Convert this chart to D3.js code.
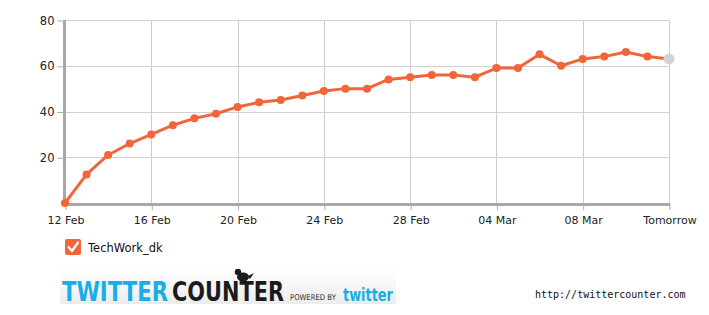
<!DOCTYPE html>
<html>
<head>
<meta charset="utf-8">
<script src="https://cdn.jsdelivr.net/npm/d3@7"></script>
<style>
  body { margin: 0; background: #fff; }
  svg { display: block; }
  text { font-family: "DejaVu Sans", Verdana, sans-serif; }
</style>
</head>
<body>
<div id="chart"></div>
<script>
// days shown on the x axis (one point per day)
const days = ['12 Feb','13 Feb','14 Feb','15 Feb','16 Feb','17 Feb','18 Feb','19 Feb','20 Feb',
  '21 Feb','22 Feb','23 Feb','24 Feb','25 Feb','26 Feb','27 Feb','28 Feb','01 Mar','02 Mar',
  '03 Mar','04 Mar','05 Mar','06 Mar','07 Mar','08 Mar','09 Mar','10 Mar','11 Mar','Tomorrow'];
const followers = [0, 12.5, 21, 26, 30, 34, 37, 39, 42, 44, 45, 47, 49, 50, 50, 54, 55, 56, 56,
  55, 59, 59, 65, 60, 63, 64, 66, 64];
const forecast = 63;   // grey "Tomorrow" point
const xTicks = ['12 Feb','16 Feb','20 Feb','24 Feb','28 Feb','04 Mar','08 Mar','Tomorrow'];
const yTicks = [20, 40, 60, 80];
const seriesName = 'TechWork_dk';

const w = 709, h = 315;
const padLeft = 64, padRight = 669, padTop = 20, padBottom = 203;

const svg = d3.select('#chart').append('svg')
  .attr('width', w).attr('height', h);

//Scales
const xScale = d3.scalePoint().domain(days).range([padLeft + 1, padRight]);
const yScale = d3.scaleLinear().domain([0, 80]).range([padBottom, padTop]);

//Grid
svg.append('g').selectAll('line').data(yTicks).join('line')
  .attr('x1', padLeft).attr('x2', padRight)
  .attr('y1', d => Math.round(yScale(d)) + 0.5).attr('y2', d => Math.round(yScale(d)) + 0.5)
  .attr('stroke', '#cfcfcf');

svg.append('g').selectAll('line').data(xTicks).join('line')
  .attr('x1', d => Math.round(xScale(d)) + 0.5).attr('x2', d => Math.round(xScale(d)) + 0.5)
  .attr('y1', padTop).attr('y2', padBottom)
  .attr('stroke', '#cfcfcf');

//Axes
const yAxis = d3.axisLeft(yScale).tickValues(yTicks).tickSize(6).tickPadding(3);
const gy = svg.append('g')
  .attr('transform', `translate(${padLeft - 0.5}, 0.5)`)
  .call(yAxis);
gy.select('.domain').remove();
gy.selectAll('line').attr('stroke', '#aaa');
gy.selectAll('text').attr('fill', '#222').style('font-size', '11.5px')
  .style('font-family', '"DejaVu Sans", Verdana, sans-serif');

const xAxis = d3.axisBottom(xScale).tickValues(xTicks).tickSize(6).tickPadding(6);
const gx = svg.append('g')
  .attr('transform', `translate(0.5, ${padBottom + 1})`)
  .call(xAxis);
gx.select('.domain').remove();
gx.selectAll('line').attr('stroke', '#aaa');
gx.selectAll('text').attr('fill', '#222').style('font-size', '11px')
  .style('font-family', '"DejaVu Sans", Verdana, sans-serif');

svg.append('line')
  .attr('x1', padLeft + 0.5).attr('x2', padLeft + 0.5).attr('y1', padTop).attr('y2', padBottom + 2)
  .attr('stroke', '#a8a8a8').attr('stroke-width', 3);
svg.append('line')
  .attr('x1', padLeft - 1).attr('x2', padRight + 1).attr('y1', padBottom + 1.5).attr('y2', padBottom + 1.5)
  .attr('stroke', '#a8a8a8').attr('stroke-width', 3);

//Line
const orange = '#f2653b';
const pts = followers.map((v, i) => [xScale(days[i]), yScale(v)]);
pts.push([xScale(days[days.length - 1]), yScale(forecast)]);

svg.append('path')
  .attr('d', d3.line()(pts))
  .attr('fill', 'none').attr('stroke', orange).attr('stroke-width', 3)
  .attr('stroke-linejoin', 'round');

svg.append('g').selectAll('circle').data(followers).join('circle')
  .attr('cx', (d, i) => xScale(days[i]))
  .attr('cy', d => yScale(d))
  .attr('r', 4)
  .attr('fill', orange);

svg.append('circle')
  .attr('cx', xScale(days[days.length - 1]))
  .attr('cy', yScale(forecast))
  .attr('r', 5.5)
  .attr('fill', '#d3d3d3');

//Legend
const lg = svg.append('g').attr('transform', 'translate(65, 239)');
lg.append('rect').attr('width', 16).attr('height', 16).attr('rx', 2).attr('fill', orange);
lg.append('path').attr('d', 'M3.5 8 L7 12 L13 3.5')
  .attr('fill', 'none').attr('stroke', '#fff').attr('stroke-width', 2.2)
  .attr('stroke-linecap', 'round').attr('stroke-linejoin', 'round');
lg.append('text').attr('x', 23).attr('y', 13)
  .style('font-size', '11.5px').attr('fill', '#111').text(seriesName);

//Logo
const defs = svg.append('defs');
const grad = defs.append('linearGradient').attr('id', 'logobg')
  .attr('x1', 0).attr('y1', 0).attr('x2', 0).attr('y2', 1);
grad.append('stop').attr('offset', '0%').attr('stop-color', '#ffffff');
grad.append('stop').attr('offset', '100%').attr('stop-color', '#ececec');

const logo = svg.append('g').attr('transform', 'translate(60, 268)');
logo.append('rect').attr('width', 336).attr('height', 36).attr('fill', 'url(#logobg)');

// squeeze a text horizontally so it fills exactly `width` px
function fitText(str, x, y, width, size, weight, fill) {
  const t = logo.append('text')
    .style('font-size', size + 'px').style('font-weight', weight)
    .attr('fill', fill).text(str);
  const natural = t.node().getComputedTextLength();
  t.attr('transform', `translate(${x}, ${y}) scale(${width / natural}, 1)`);
  return t;
}

fitText('TWITTER', 2, 33, 106, 26, 'bold', '#18aee6');
fitText('COUNTER', 112, 33, 112, 26, 'bold', '#1b1b1b');
fitText('POWERED BY', 230, 32, 46, 8, 'normal', '#333');
fitText('twitter', 283, 33, 50, 17, 'bold', '#18aee6');

// little bird on top
logo.append('ellipse').attr('cx', 183).attr('cy', 9).attr('rx', 6).attr('ry', 4.5).attr('fill', '#1b1b1b');
logo.append('circle').attr('cx', 178).attr('cy', 4).attr('r', 3.2).attr('fill', '#1b1b1b');
logo.append('path').attr('d', 'M188 8 L194 5 L190 11 Z').attr('fill', '#1b1b1b');

//URL
svg.append('text').attr('x', 535).attr('y', 298)
  .style('font-family', '"DejaVu Sans Mono", "Liberation Mono", monospace')
  .style('font-size', '10px').attr('fill', '#111')
  .text('http://twittercounter.com');
</script>
</body>
</html>
